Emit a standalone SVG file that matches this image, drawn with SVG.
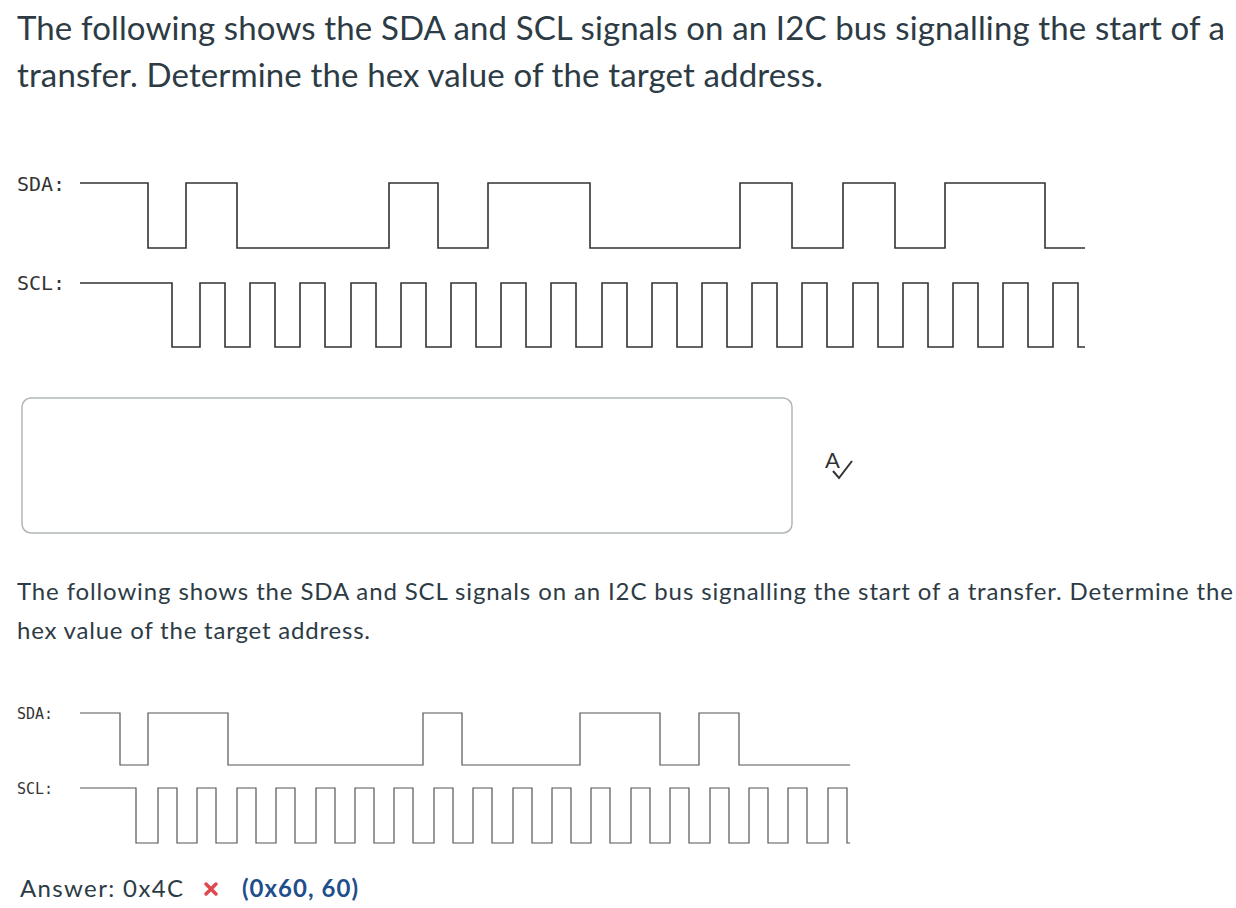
<svg xmlns="http://www.w3.org/2000/svg" width="1236" height="908" viewBox="0 0 1236 908">
<style>
.t{font-family:Lato,"Liberation Sans",sans-serif;fill:#2d3b45}
.m{font-family:"DejaVu Sans Mono","Liberation Mono",monospace;fill:#333}
.w{fill:none;stroke:#333;stroke-width:1.6}
.wb{fill:none;stroke:#555;stroke-width:1.2}
</style>
<rect width="1236" height="908" fill="#fff"/>
<text class="t" x="17" y="40" font-size="33" textLength="1208">The following shows the SDA and SCL signals on an I2C bus signalling the start of a</text>
<text class="t" x="17" y="87" font-size="33" textLength="806">transfer. Determine the hex value of the target address.</text>
<g id="top-diagram">
<text class="m" x="17" y="191" font-size="20">SDA:</text>
<text class="m" x="17" y="290" font-size="20">SCL:</text>
<path class="w" d="M80 183H148V248H186V183H237V248H389V183H438V248H488V183H590V248H740V183H792V248H843V183H895V248H945V183H1045V248H1085"/>
<path class="w" d="M80 283H172V347H200V283H225V347H250V283H275V347H300V283H325V347H351V283H376V347H401V283H426V347H451V283H476V347H501V283H526V347H551V283H576V347H602V283H627V347H652V283H677V347H702V283H727V347H752V283H777V347H802V283H827V347H853V283H878V347H903V283H928V347H953V283H978V347H1003V283H1028V347H1053V283H1078V347H1085"/>
</g>
<g id="answer-box">
<rect x="22" y="398" width="770" height="135" rx="9" fill="#fff" stroke="#b0b6bb" stroke-width="1.5"/>
<text x="825" y="468" font-family="Lato,'Liberation Sans',sans-serif" font-size="22" fill="#333">A</text>
<path d="M833 471l6 7 13-17" fill="none" stroke="#333" stroke-width="2"/>
</g>
<text class="t" x="17" y="600" font-size="24" textLength="1216">The following shows the SDA and SCL signals on an I2C bus signalling the start of a transfer. Determine the</text>
<text class="t" x="17" y="639" font-size="24" textLength="353">hex value of the target address.</text>
<g id="bottom-diagram">
<text class="m" x="17" y="719" font-size="15">SDA:</text>
<text class="m" x="17" y="794" font-size="15">SCL:</text>
<path class="wb" d="M80 713H120V765H148V713H228V765H423V713H462V765H580V713H660V765H699V713H739V765H850"/>
<path class="wb" d="M80 788H136V843H158V788H177V843H197V788H216V843H237V788H256V843H276V788H295V843H316V788H335V843H355V788H374V843H394V788H413V843H434V788H453V843H473V788H492V843H513V788H532V843H552V788H571V843H591V788H610V843H631V788H650V843H670V788H689V843H710V788H729V843H749V788H768V843H788V788H807V843H828V788H847V843H850"/>
</g>
<g id="answer">
<text class="t" x="20" y="897" font-size="24" textLength="163">Answer: 0x4C</text>
<path d="M206 884l10 10M216 884l-10 10" stroke="#e0484e" stroke-width="3.5" stroke-linecap="round"/>
<text x="242" y="897" font-family="Lato,'Liberation Sans',sans-serif" font-size="24" font-weight="bold" fill="#1f4e8c" textLength="116">(0x60, 60)</text>
</g>
</svg>
